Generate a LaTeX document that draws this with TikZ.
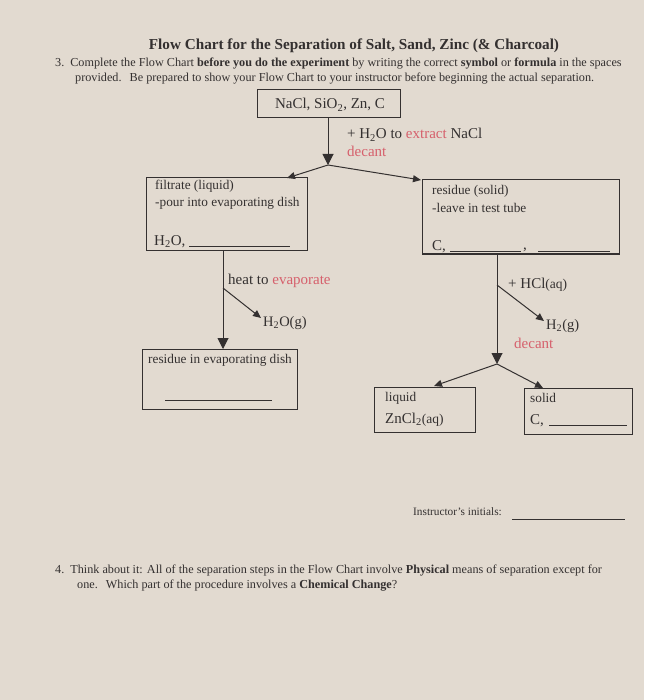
\documentclass[tikz,border=0pt]{standalone}
\usepackage{fontspec}
\setmainfont{Liberation Serif}
\usetikzlibrary{arrows.meta}
\definecolor{paper}{RGB}{226,218,208}
\definecolor{ink}{RGB}{52,48,48}
\definecolor{redink}{RGB}{214,96,108}
\newcommand{\aqsm}{{\fontsize{13.5}{14}\selectfont(aq)}}
\begin{document}
\begin{tikzpicture}[x=1pt,y=-1pt,
  txt/.style={inner sep=0pt, anchor=base west, text=ink, font=\fontsize{13.3}{15}\selectfont},
  lab/.style={inner sep=0pt, anchor=base west, text=ink, font=\fontsize{15}{17}\selectfont},
  body/.style={inner sep=0pt, anchor=base west, text=ink, font=\fontsize{12.2}{14}\selectfont},
  box/.style={draw=ink, line width=1pt, inner sep=0pt, fill=none},
  blank/.style={draw=ink, line width=0.7pt},
  bigarr/.style={draw=ink, line width=1pt, -{Triangle[length=11pt,width=11pt]}},
  arr/.style={draw=ink, line width=1pt, -{Triangle[length=8pt,width=7pt]}}
]
\fill[paper] (0,0) rectangle (644,700);
\useasboundingbox (0,0) rectangle (644,700);

% header
\node[inner sep=0pt, anchor=base, text=ink, font=\fontsize{15.2}{17}\selectfont\bfseries] (title) at (354,50)
  {Flow Chart for the Separation of Salt, Sand, Zinc (\& Charcoal)};
\node[body] (q3a) at (55,67) {3.\hspace{6pt}Complete the Flow Chart \textbf{before you do the experiment} by writing the correct \textbf{symbol} or \textbf{formula} in the spaces};
\node[body] (q3b) at (75,82) {provided.\hspace{4pt} Be prepared to show your Flow Chart to your instructor before beginning the actual separation.};

% boxes
\node[box, minimum width=143pt, minimum height=28pt] (top) at (328.5,104) {};
\node[lab, anchor=base] (toptxt) at (330,109) {NaCl, SiO\textsubscript{2}, Zn, C};

\node[box, minimum width=161pt, minimum height=73pt] (lbox) at (226.5,214.5) {};
\node[txt] (l1) at (155,190) {filtrate (liquid)};
\node[txt] (l2) at (155,207) {-pour into evaporating dish};
\node[lab] (l3) at (154,245) {H\textsubscript{2}O,};
\draw[blank] (189,246) -- (290,246);

\node[box, minimum width=197pt, minimum height=74pt] (rbox) at (520.5,217) {};
\node[txt] (r1) at (432,195) {residue (solid)};
\node[txt] (r2) at (432,213) {-leave in test tube};
\node[lab] (r3) at (432,251) {C,};
\draw[blank] (450,251) -- (521,251);
\node[lab] (r4) at (523,250) {,};
\draw[blank] (538,251) -- (610,251);

\node[box, minimum width=155pt, minimum height=60pt] (res) at (219.5,379) {};
\node[txt] (res1) at (148,363) {residue in evaporating dish};
\draw[blank] (165,400) -- (272,400);

\node[box, minimum width=101pt, minimum height=45pt] (liq) at (424.5,409.5) {};
\node[txt] (liq1) at (385,401) {liquid};
\node[lab] (liq2) at (385,423) {ZnCl\textsubscript{2}\aqsm};

\node[box, minimum width=108pt, minimum height=46pt] (sol) at (578,411) {};
\node[txt] (sol1) at (530,402) {solid};
\node[lab] (sol2) at (530,424) {C,};
\draw[blank] (549,425) -- (627,425);

% labels
\node[lab] (lab1) at (347,139) {+ H\textsubscript{2}O to \textcolor{redink}{extract} NaCl};
\node[lab, text=redink] (lab2) at (347,157) {decant};
\node[lab] (lab3) at (228,284) {heat to \textcolor{redink}{evaporate}};
\node[lab, font=\fontsize{14.5}{16}\selectfont] (lab4) at (263,326) {H\textsubscript{2}O(g)};
\node[lab] (lab5) at (508,288) {+ HCl\aqsm};
\node[lab, font=\fontsize{14.5}{16}\selectfont] (lab6) at (546,329) {H\textsubscript{2}(g)};
\node[lab, text=redink] (lab7) at (514,348) {decant};

% coordinates
\coordinate (b1) at (328,165);
\coordinate (tl) at (287,178);
\coordinate (tr) at (421,180);
\coordinate (ls) at (223,251);
\coordinate (lm) at (223,288);
\coordinate (le) at (223,349);
\coordinate (lg) at (261,318);
\coordinate (rs) at (497,254);
\coordinate (rm) at (497,285);
\coordinate (rg) at (544,321);
\coordinate (b2) at (497,364);
\coordinate (tq) at (434,386);
\coordinate (ts) at (543,388);

% connectors
\draw[bigarr] (top.south -| b1) -- (b1);
\draw[arr] (b1) -- (tl);
\draw[arr] (b1) -- (tr);
\draw[bigarr] (ls) -- (le);
\draw[arr] (lm) -- (lg);
\draw[bigarr] (rs) -- (b2);
\draw[arr] (rm) -- (rg);
\draw[arr] (b2) -- (tq);
\draw[arr] (b2) -- (ts);

% footer
\node[txt, font=\fontsize{11.3}{13}\selectfont] (instr) at (413,515) {Instructor's initials:};
\draw[blank] (512,519) -- (625,519);
\node[body] (q4a) at (55,573) {4.\hspace{6pt}Think about it: All of the separation steps in the Flow Chart involve \textbf{Physical} means of separation except for};
\node[body] (q4b) at (77,588) {one.\hspace{4pt} Which part of the procedure involves a \textbf{Chemical Change}?};
\end{tikzpicture}
\end{document}
